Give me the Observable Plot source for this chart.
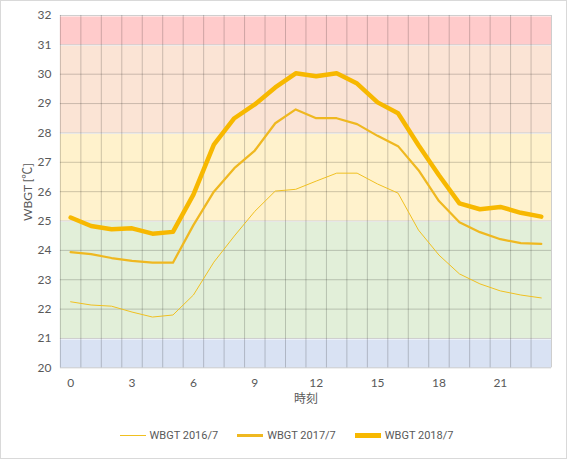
<!DOCTYPE html>
<html><head><meta charset="utf-8">
<script src="https://cdn.jsdelivr.net/npm/d3@7"></script>
<script src="https://cdn.jsdelivr.net/npm/@observablehq/plot@0.6"></script>
<style>
body{margin:0;background:#fff;}
#wrap{position:relative;width:567px;height:459px;box-sizing:border-box;border:1px solid #d9d9d9;font-family:Lato,"Noto Sans CJK JP",sans-serif;color:#595959;}
#chart{position:absolute;left:-1px;top:-1px;}
#legend{position:absolute;left:2px;top:428px;width:567px;display:flex;justify-content:center;gap:19px;font-size:11px;font-family:Roboto,sans-serif;color:#595959;}
.item{display:flex;align-items:center;gap:4px;}
.sw{width:26px;}
</style></head><body>
<div id="wrap"><div id="chart"></div><div id="legend"></div></div>
<script>
const hours = [0,1,2,3,4,5,6,7,8,9,10,11,12,13,14,15,16,17,18,19,20,21,22,23];
const wbgt2016 = [22.25,22.14,22.1,21.9,21.73,21.8,22.48,23.6,24.49,25.33,26.02,26.08,26.36,26.63,26.63,26.26,25.95,24.69,23.84,23.2,22.86,22.62,22.48,22.38];
const wbgt2017 = [23.94,23.87,23.74,23.64,23.58,23.58,24.86,26.0,26.8,27.4,28.33,28.8,28.5,28.5,28.3,27.9,27.55,26.73,25.68,24.96,24.62,24.38,24.25,24.22];
const wbgt2018 = [25.12,24.83,24.72,24.75,24.57,24.63,25.9,27.6,28.5,28.97,29.55,30.03,29.93,30.03,29.68,29.04,28.67,27.58,26.56,25.6,25.4,25.48,25.28,25.15];
const seriesNames = ["WBGT 2016/7","WBGT 2017/7","WBGT 2018/7"];
const seriesColors = ["#f0c020","#efb820","#f7b800"];
const seriesWidths = [1,2.25,4.5];
const bandLow = [20,21,25,28,31];
const bandHigh = [21,25,28,31,32];
const bandColors = ["#d9e2f3","#e2efd9","#fff2cc","#fbe4d5","#ffcbcb"];
const yTicks = [20,21,22,23,24,25,26,27,28,29,30,31,32];
const xTicks = [0,3,6,9,12,15,18,21];
const xLabel = "時刻";
const yLabel = "WBGT [℃]";

const bands = bandLow.map((lo,i)=>({lo, hi: bandHigh[i], c: bandColors[i]}));
const allSeries = [wbgt2016, wbgt2017, wbgt2018].map(vals => hours.map((h,i)=>({h, v: vals[i]})));
const xBounds = hours.map(h => h - 0.5).concat([hours[hours.length-1] + 0.5]);

const plot = Plot.plot({
  width: 567, height: 420,
  marginLeft: 60, marginRight: 15, marginTop: 15, marginBottom: 52,
  style: {fontSize: "12px", fontFamily: 'Lato,"Noto Sans CJK JP",sans-serif', color: "#595959", background: "transparent"},
  x: {domain: [-0.5, 23.5], ticks: xTicks, tickSize: 0, tickPadding: 11, label: null, tickFormat: d => String(d)},
  y: {domain: [20, 32], ticks: yTicks, tickSize: 0, tickPadding: 9, label: null},
  marks: [
    Plot.rect(bands, {y1: "lo", y2: "hi", fill: "c", insetTop: 1.5, insetBottom: 0}),
    Plot.ruleY(yTicks, {stroke: "#000", strokeOpacity: 0.2}),
    Plot.ruleX(xBounds, {stroke: "#000", strokeOpacity: 0.2}),
    ...allSeries.map((data, i) => Plot.line(data, {x: "h", y: "v", stroke: seriesColors[i], strokeWidth: seriesWidths[i], strokeLinejoin: "round"})),
    Plot.text([xLabel], {frameAnchor: "bottom", dy: 35, fill: "#595959", fontSize: 12}),
    Plot.text([yLabel], {frameAnchor: "middle", textAnchor: "middle", dx: -280, rotate: -90, fill: "#595959", fontSize: 12})
  ]
});
document.getElementById("chart").appendChild(plot);

// make sure the rotated axis title is centred on the plot frame's vertical middle
const yl = [...plot.querySelectorAll("text")].find(e => e.textContent === yLabel);
if (yl) {
  const r = yl.getBoundingClientRect(), pr = plot.getBoundingClientRect();
  const cx = r.left + r.width / 2 - pr.left, cy = r.top + r.height / 2 - pr.top;
  yl.setAttribute("transform", `translate(${27 - cx},${192 - cy}) ` + (yl.getAttribute("transform") || ""));
}

const legend = document.getElementById("legend");
seriesNames.forEach((name, i) => {
  const it = document.createElement("div"); it.className = "item";
  const sw = document.createElement("div"); sw.className = "sw";
  sw.style.height = seriesWidths[i] + "px"; sw.style.background = seriesColors[i];
  const tx = document.createElement("span"); tx.textContent = name;
  it.appendChild(sw); it.appendChild(tx); legend.appendChild(it);
});
</script>
</body></html>
